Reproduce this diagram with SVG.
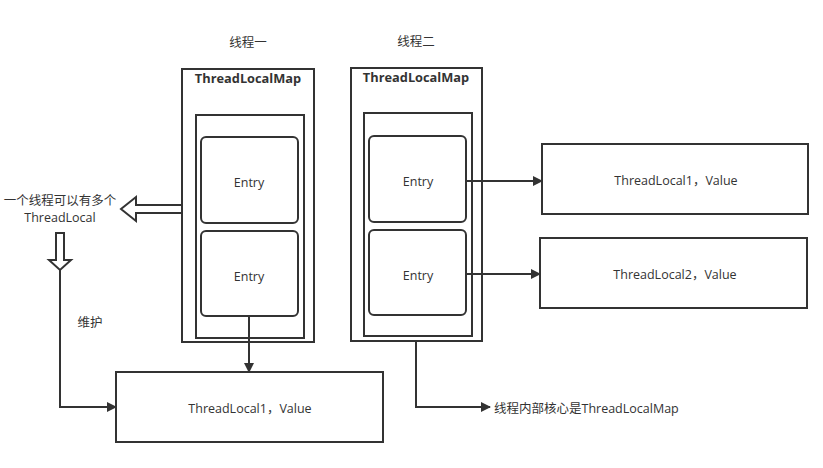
<svg xmlns="http://www.w3.org/2000/svg" width="823" height="468" viewBox="0 0 823 468">
<style>
.b{fill:#fff;stroke:#333;stroke-width:2}
.e{fill:#fff;stroke:#333;stroke-width:2}
.c{fill:none;stroke:#333;stroke-width:2}
text{font-family:"Open Sans","Noto Sans CJK SC",sans-serif;font-size:12.5px;fill:#333;text-anchor:middle}
.t{font-weight:bold;font-size:12.8px}
</style>
<defs><marker id="a" markerWidth="10" markerHeight="10" refX="9" refY="5" orient="auto" markerUnits="userSpaceOnUse"><path d="M0,0 L10,5 L0,10 Z" fill="#333"/></marker></defs>
<rect width="823" height="468" fill="#fff"/>
<text x="248" y="47">线程一</text>
<text x="416" y="46">线程二</text>
<g id="map1"><rect class="b" x="182" y="69" width="132" height="273"/><text class="t" x="248" y="83">ThreadLocalMap</text><rect class="b" x="196" y="115" width="108" height="223"/></g>
<g id="entry1"><rect class="e" x="201" y="137" width="97" height="86" rx="5"/><text x="249" y="187">Entry</text></g>
<g id="entry2"><rect class="e" x="201" y="231" width="97" height="85" rx="5"/><text x="249" y="281">Entry</text></g>
<g id="map2"><rect class="b" x="351" y="68" width="131" height="273"/><text class="t" x="416" y="82">ThreadLocalMap</text><rect class="b" x="364" y="113" width="108" height="223"/></g>
<g id="entry3"><rect class="e" x="369" y="136" width="97" height="86" rx="5"/><text x="418" y="186">Entry</text></g>
<g id="entry4"><rect class="e" x="369" y="230" width="97" height="85" rx="5"/><text x="418" y="280">Entry</text></g>
<g id="tl1"><rect class="b" x="542" y="144" width="266" height="70"/><text x="676" y="185">ThreadLocal1，Value</text></g>
<g id="tl2"><rect class="b" x="540" y="238" width="267" height="70"/><text x="675" y="279">ThreadLocal2，Value</text></g>
<g id="tl3"><rect class="b" x="116" y="372" width="267" height="70"/><text x="250" y="413">ThreadLocal1，Value</text></g>
<g id="lbl1"><text x="60" y="205">一个线程可以有多个</text><text x="60" y="222">ThreadLocal</text></g>
<g id="lbl2"><text x="90" y="327">维护</text></g>
<g id="lbl3"><text x="494" y="413" style="text-anchor:start">线程内部核心是ThreadLocalMap</text></g>
<g id="connectors">
<path class="b" d="M182,205 L136,205 L136,197 L121,209 L136,221 L136,213 L182,213 Z"/>
<path class="b" d="M56,233 L64,233 L64,260 L71,260 L60,270 L49,260 L56,260 Z"/>
<path class="c" d="M60,270 V407 H116" marker-end="url(#a)"/>
<path class="c" d="M249,316 V372" marker-end="url(#a)"/>
<path class="c" d="M416,341 V407 H490" marker-end="url(#a)"/>
<path class="c" d="M466,181 H542" marker-end="url(#a)"/>
<path class="c" d="M466,274 H540" marker-end="url(#a)"/>
</g>
</svg>
